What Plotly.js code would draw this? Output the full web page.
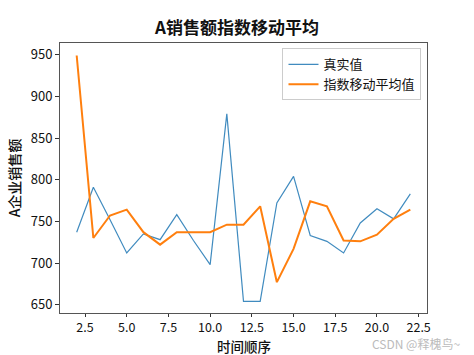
<!DOCTYPE html>
<html><head><meta charset="utf-8">
<script src="https://cdn.plot.ly/plotly-3.0.1.min.js"></script>
<style>body{margin:0;background:#fff}#c{width:474px;height:355px}</style>
</head><body><div id="c"></div>
<script>
const xs = [2,3,4,5,6,7,8,9,10,11,12,13,14,15,16,17,18,19,20,21,22];
const realVals = [737,791,752,712,735,728,758,727,698,879,654,654,772,804,733,726,712,748,765,753,783];
const emaVals = [949,730,757,764,737,722,737,737,737,746,746,768,677,717,774,768,727,726,734,753,764];
const xTicks = [2.5,5.0,7.5,10.0,12.5,15.0,17.5,20.0,22.5];
const yTicks = [650,700,750,800,850,900,950];
const FONT = '"Noto Sans CJK SC", "DejaVu Sans", sans-serif';

const traces = [
  {x: xs, y: realVals, name: '真实值', mode: 'lines', line: {color: '#1f77b4', width: 1.2}, opacity: 0.85},
  {x: xs, y: emaVals, name: '指数移动平均值', mode: 'lines', line: {color: '#ff7f0e', width: 2}}
];
const axisCommon = {showgrid: false, zeroline: false, showline: true, mirror: true, linecolor: '#555', linewidth: 1,
  ticks: 'outside', ticklen: 4, tickcolor: '#333', tickfont: {family: FONT, size: 13, color: '#111'}};
const layout = {
  width: 474, height: 355,
  margin: {l: 60, r: 47, t: 43, b: 42},
  paper_bgcolor: '#fff', plot_bgcolor: '#fff',
  font: {family: FONT, color: '#111'},
  title: {text: 'A销售额指数移动平均', font: {family: FONT, size: 17, color: '#111', weight: 'bold'}, x: 0.5, xanchor: 'center', y: 0.92, yanchor: 'middle'},
  xaxis: Object.assign({}, axisCommon, {range: [1, 23], tickvals: xTicks, ticktext: xTicks.map(v => v.toFixed(1)),
    ticklen: 3, tickfont: {family: FONT, size: 12.5, color: '#111'}}),
  yaxis: Object.assign({}, axisCommon, {range: [640, 964], tickvals: yTicks,
    title: {text: 'A企业销售额', font: {family: FONT, size: 14, weight: 500}, standoff: 6}}),
  showlegend: true,
  legend: {x: 0.985, y: 0.98, xanchor: 'right', yanchor: 'top', bgcolor: 'rgba(255,255,255,0.9)',
    bordercolor: '#ccc', borderwidth: 1, font: {family: FONT, size: 13}, tracegroupgap: 0},
  annotations: [
    {text: '时间顺序', xref: 'paper', yref: 'paper', x: 0.5, y: -0.124, xanchor: 'center', yanchor: 'middle',
      showarrow: false, font: {family: FONT, size: 13.5, weight: 500, color: '#111'}},
    {text: 'CSDN @释槐鸟~', xref: 'paper', yref: 'paper', x: 1.095, y: -0.112, xanchor: 'right', yanchor: 'middle',
      showarrow: false, font: {family: FONT, size: 12, color: '#bbb'}}]
};
Plotly.newPlot('c', traces, layout, {displayModeBar: false, staticPlot: true});
</script></body></html>
